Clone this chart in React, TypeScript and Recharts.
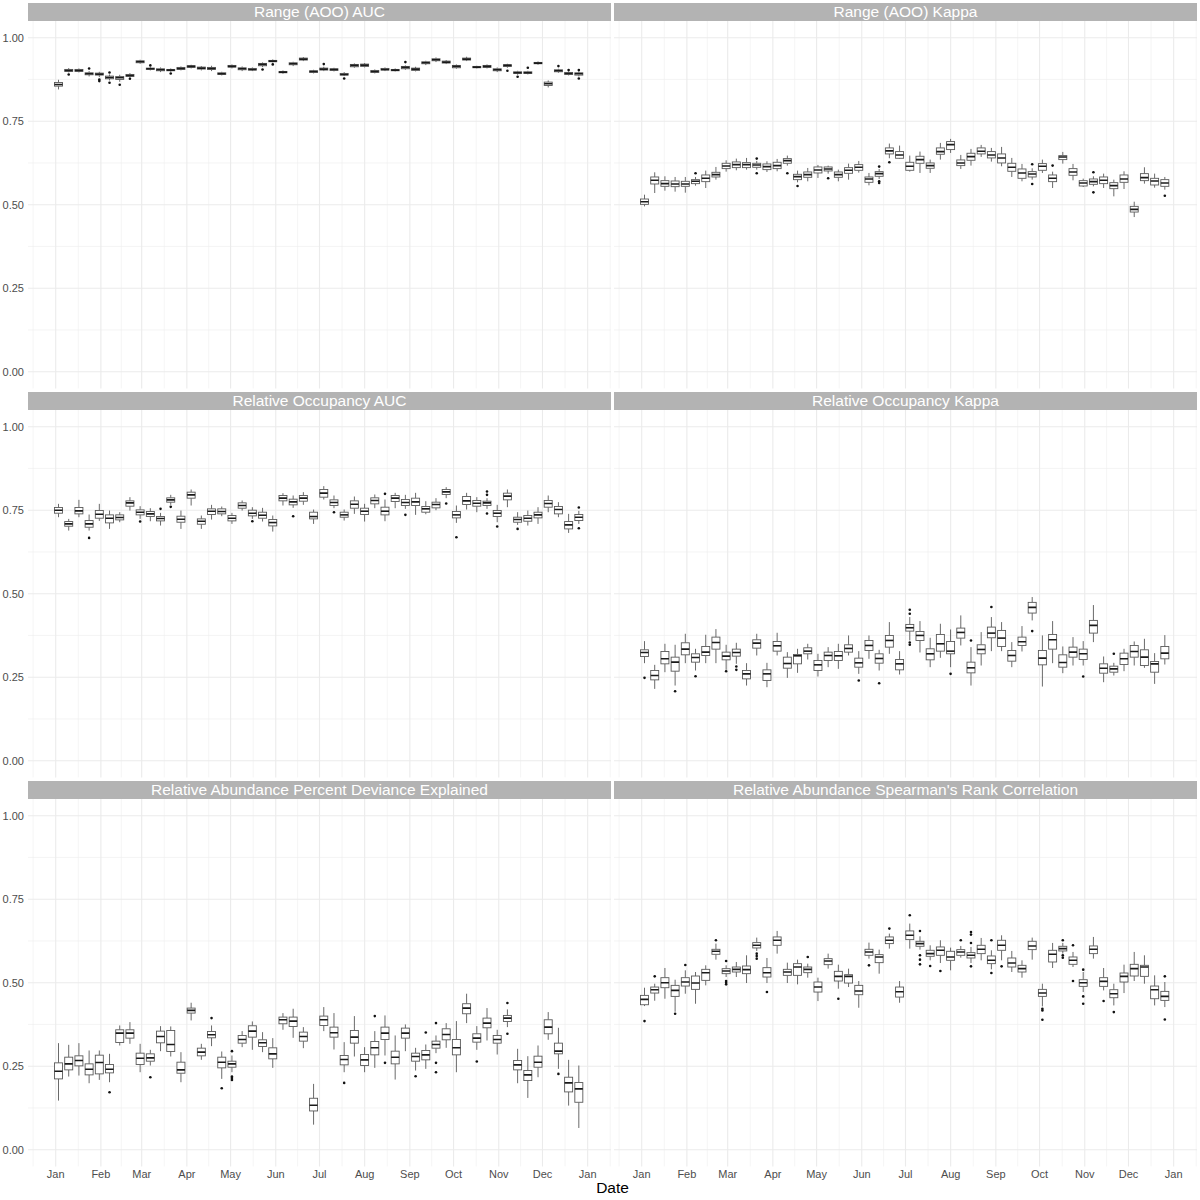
import { ComposedChart, Bar, XAxis, YAxis, CartesianGrid } from 'recharts';

// [lower whisker, q1, median, q3, upper whisker]
type Stats = [number, number, number, number, number];
type Outlier = [number, number]; // [week number (1-52), value]

const weekDates = [
  '2021-01-03', '2021-01-10', '2021-01-17', '2021-01-24', '2021-01-31',
  '2021-02-07', '2021-02-14', '2021-02-21', '2021-02-28',
  '2021-03-07', '2021-03-14', '2021-03-21', '2021-03-28',
  '2021-04-04', '2021-04-11', '2021-04-18', '2021-04-25',
  '2021-05-02', '2021-05-09', '2021-05-16', '2021-05-23', '2021-05-30',
  '2021-06-06', '2021-06-13', '2021-06-20', '2021-06-27',
  '2021-07-04', '2021-07-11', '2021-07-18', '2021-07-25',
  '2021-08-01', '2021-08-08', '2021-08-15', '2021-08-22', '2021-08-29',
  '2021-09-05', '2021-09-12', '2021-09-19', '2021-09-26',
  '2021-10-03', '2021-10-10', '2021-10-17', '2021-10-24', '2021-10-31',
  '2021-11-07', '2021-11-14', '2021-11-21', '2021-11-28',
  '2021-12-05', '2021-12-12', '2021-12-19', '2021-12-26',
];

const monthStarts = [
  '2021-01-01', '2021-02-01', '2021-03-01', '2021-04-01', '2021-05-01', '2021-06-01', '2021-07-01',
  '2021-08-01', '2021-09-01', '2021-10-01', '2021-11-01', '2021-12-01', '2022-01-01',
];
const monthLabels = ['Jan', 'Feb', 'Mar', 'Apr', 'May', 'Jun', 'Jul', 'Aug', 'Sep', 'Oct', 'Nov', 'Dec', 'Jan'];
const yTicks = [0, 0.25, 0.5, 0.75, 1];

const rangeAucBoxes: Stats[] = [
  [0.845, 0.855, 0.860, 0.866, 0.874], [0.896, 0.899, 0.902, 0.905, 0.909], [0.896, 0.899, 0.902, 0.905, 0.908],
  [0.884, 0.889, 0.892, 0.895, 0.900], [0.882, 0.888, 0.891, 0.894, 0.898], [0.872, 0.877, 0.881, 0.885, 0.890],
  [0.868, 0.875, 0.880, 0.884, 0.889], [0.880, 0.884, 0.887, 0.890, 0.894], [0.922, 0.925, 0.928, 0.931, 0.934],
  [0.902, 0.905, 0.907, 0.909, 0.912], [0.897, 0.901, 0.904, 0.907, 0.911], [0.898, 0.901, 0.903, 0.905, 0.908],
  [0.902, 0.905, 0.908, 0.911, 0.914], [0.908, 0.911, 0.914, 0.916, 0.919], [0.902, 0.906, 0.909, 0.912, 0.915],
  [0.900, 0.905, 0.908, 0.911, 0.916], [0.887, 0.890, 0.892, 0.895, 0.898], [0.908, 0.912, 0.914, 0.917, 0.920],
  [0.900, 0.904, 0.907, 0.910, 0.914], [0.900, 0.903, 0.905, 0.908, 0.911], [0.912, 0.916, 0.920, 0.923, 0.926],
  [0.926, 0.928, 0.930, 0.932, 0.935], [0.892, 0.895, 0.897, 0.899, 0.902], [0.915, 0.919, 0.922, 0.925, 0.928],
  [0.930, 0.933, 0.936, 0.939, 0.942], [0.893, 0.896, 0.899, 0.901, 0.904], [0.900, 0.903, 0.906, 0.909, 0.913],
  [0.899, 0.902, 0.905, 0.907, 0.910], [0.885, 0.888, 0.890, 0.893, 0.897], [0.910, 0.913, 0.917, 0.920, 0.923],
  [0.911, 0.914, 0.918, 0.921, 0.924], [0.893, 0.896, 0.899, 0.902, 0.905], [0.900, 0.903, 0.905, 0.908, 0.911],
  [0.899, 0.901, 0.903, 0.905, 0.908], [0.904, 0.907, 0.911, 0.914, 0.917], [0.899, 0.902, 0.906, 0.909, 0.913],
  [0.918, 0.922, 0.925, 0.928, 0.931], [0.927, 0.931, 0.934, 0.937, 0.941], [0.921, 0.924, 0.927, 0.930, 0.933],
  [0.907, 0.910, 0.914, 0.917, 0.920], [0.930, 0.933, 0.936, 0.939, 0.943], [0.908, 0.910, 0.912, 0.914, 0.916],
  [0.908, 0.911, 0.914, 0.917, 0.920], [0.897, 0.901, 0.904, 0.907, 0.911], [0.910, 0.914, 0.917, 0.919, 0.922],
  [0.889, 0.893, 0.895, 0.898, 0.901], [0.890, 0.893, 0.895, 0.898, 0.901], [0.919, 0.922, 0.924, 0.926, 0.929],
  [0.851, 0.857, 0.862, 0.867, 0.872], [0.895, 0.898, 0.901, 0.904, 0.907], [0.887, 0.890, 0.893, 0.896, 0.899],
  [0.884, 0.888, 0.892, 0.895, 0.899],
];
const rangeAucOutliers: Outlier[] = [
  [2, 0.890], [4, 0.908], [5, 0.870], [5, 0.875], [6, 0.896], [6, 0.865], [7, 0.859], [8, 0.877], [10, 0.917],
  [12, 0.893], [21, 0.905], [22, 0.920], [27, 0.921], [29, 0.878], [35, 0.927], [45, 0.901], [46, 0.883],
  [47, 0.910], [50, 0.915], [51, 0.903], [52, 0.903], [52, 0.878],
];

const rangeKappaBoxes: Stats[] = [
  [0.495, 0.501, 0.509, 0.517, 0.530], [0.535, 0.562, 0.573, 0.583, 0.597], [0.542, 0.555, 0.563, 0.572, 0.585],
  [0.539, 0.554, 0.562, 0.571, 0.583], [0.536, 0.555, 0.562, 0.570, 0.583], [0.557, 0.563, 0.570, 0.575, 0.583],
  [0.550, 0.569, 0.579, 0.589, 0.602], [0.575, 0.583, 0.590, 0.597, 0.613], [0.599, 0.608, 0.616, 0.624, 0.633],
  [0.603, 0.611, 0.620, 0.628, 0.638], [0.605, 0.611, 0.620, 0.626, 0.640], [0.605, 0.612, 0.619, 0.624, 0.631],
  [0.598, 0.605, 0.614, 0.622, 0.630], [0.600, 0.608, 0.617, 0.627, 0.637], [0.617, 0.624, 0.632, 0.638, 0.647],
  [0.567, 0.575, 0.584, 0.591, 0.602], [0.570, 0.582, 0.590, 0.598, 0.610], [0.580, 0.595, 0.604, 0.613, 0.619],
  [0.593, 0.601, 0.607, 0.613, 0.617], [0.570, 0.582, 0.590, 0.598, 0.605], [0.575, 0.594, 0.603, 0.611, 0.623],
  [0.596, 0.603, 0.612, 0.620, 0.631], [0.558, 0.567, 0.577, 0.583, 0.595], [0.577, 0.585, 0.593, 0.599, 0.607],
  [0.639, 0.652, 0.661, 0.670, 0.683], [0.637, 0.639, 0.649, 0.659, 0.677], [0.599, 0.603, 0.615, 0.627, 0.647],
  [0.595, 0.624, 0.635, 0.645, 0.659], [0.595, 0.609, 0.617, 0.625, 0.635], [0.635, 0.651, 0.659, 0.670, 0.685],
  [0.655, 0.665, 0.680, 0.689, 0.697], [0.607, 0.617, 0.625, 0.634, 0.649], [0.617, 0.633, 0.644, 0.654, 0.667],
  [0.643, 0.652, 0.660, 0.670, 0.679], [0.629, 0.640, 0.649, 0.659, 0.670], [0.615, 0.625, 0.640, 0.652, 0.673],
  [0.583, 0.600, 0.612, 0.624, 0.640], [0.570, 0.579, 0.595, 0.607, 0.622], [0.575, 0.583, 0.592, 0.599, 0.609],
  [0.595, 0.603, 0.615, 0.623, 0.635], [0.550, 0.569, 0.579, 0.589, 0.599], [0.623, 0.635, 0.643, 0.647, 0.658],
  [0.573, 0.588, 0.598, 0.608, 0.622], [0.553, 0.556, 0.565, 0.572, 0.578], [0.555, 0.561, 0.569, 0.577, 0.585],
  [0.550, 0.563, 0.573, 0.583, 0.593], [0.525, 0.548, 0.557, 0.566, 0.575], [0.547, 0.567, 0.577, 0.589, 0.600],
  [0.463, 0.478, 0.486, 0.495, 0.509], [0.563, 0.572, 0.581, 0.593, 0.612], [0.551, 0.559, 0.571, 0.579, 0.593],
  [0.545, 0.555, 0.565, 0.575, 0.583],
];
const rangeKappaOutliers: Outlier[] = [
  [6, 0.594], [12, 0.638], [12, 0.594], [15, 0.594], [16, 0.556], [19, 0.579], [24, 0.614], [24, 0.570],
  [24, 0.565], [25, 0.627], [39, 0.621], [39, 0.562], [41, 0.617], [45, 0.597], [45, 0.537], [52, 0.527],
];

const occAucBoxes: Stats[] = [
  [0.729, 0.741, 0.750, 0.758, 0.769], [0.689, 0.702, 0.709, 0.716, 0.724], [0.729, 0.739, 0.748, 0.758, 0.781],
  [0.689, 0.699, 0.709, 0.719, 0.737], [0.718, 0.726, 0.738, 0.749, 0.769], [0.694, 0.712, 0.726, 0.736, 0.749],
  [0.714, 0.721, 0.728, 0.736, 0.744], [0.749, 0.762, 0.772, 0.778, 0.789], [0.724, 0.736, 0.744, 0.751, 0.762],
  [0.717, 0.731, 0.739, 0.746, 0.756], [0.704, 0.718, 0.725, 0.731, 0.742], [0.766, 0.774, 0.781, 0.787, 0.796],
  [0.694, 0.714, 0.723, 0.732, 0.749], [0.764, 0.786, 0.796, 0.804, 0.812], [0.694, 0.708, 0.717, 0.724, 0.734],
  [0.722, 0.737, 0.747, 0.754, 0.766], [0.732, 0.739, 0.746, 0.754, 0.761], [0.709, 0.718, 0.726, 0.734, 0.742],
  [0.749, 0.756, 0.764, 0.772, 0.779], [0.724, 0.733, 0.741, 0.750, 0.759], [0.716, 0.726, 0.735, 0.744, 0.757],
  [0.686, 0.703, 0.713, 0.722, 0.734], [0.764, 0.778, 0.786, 0.794, 0.801], [0.757, 0.766, 0.775, 0.783, 0.794],
  [0.766, 0.777, 0.786, 0.794, 0.804], [0.709, 0.724, 0.731, 0.744, 0.752], [0.782, 0.789, 0.801, 0.812, 0.822],
  [0.756, 0.764, 0.773, 0.781, 0.794], [0.719, 0.729, 0.736, 0.744, 0.752], [0.739, 0.756, 0.768, 0.778, 0.791],
  [0.716, 0.737, 0.747, 0.756, 0.769], [0.756, 0.769, 0.779, 0.787, 0.797], [0.717, 0.736, 0.747, 0.759, 0.782],
  [0.756, 0.776, 0.786, 0.794, 0.802], [0.754, 0.764, 0.773, 0.782, 0.796], [0.736, 0.764, 0.775, 0.786, 0.802],
  [0.738, 0.744, 0.754, 0.761, 0.777], [0.750, 0.757, 0.767, 0.774, 0.786], [0.786, 0.797, 0.805, 0.812, 0.819],
  [0.712, 0.727, 0.736, 0.746, 0.764], [0.752, 0.767, 0.778, 0.791, 0.802], [0.744, 0.762, 0.771, 0.779, 0.789],
  [0.754, 0.764, 0.772, 0.777, 0.786], [0.714, 0.731, 0.741, 0.749, 0.766], [0.759, 0.781, 0.792, 0.801, 0.812],
  [0.706, 0.714, 0.722, 0.729, 0.744], [0.704, 0.717, 0.726, 0.734, 0.749], [0.709, 0.727, 0.736, 0.744, 0.759],
  [0.744, 0.759, 0.770, 0.779, 0.794], [0.729, 0.739, 0.752, 0.761, 0.774], [0.682, 0.694, 0.706, 0.716, 0.739],
  [0.709, 0.719, 0.729, 0.737, 0.748],
];
const occAucOutliers: Outlier[] = [
  [4, 0.667], [9, 0.716], [11, 0.754], [12, 0.760], [20, 0.717], [24, 0.732], [28, 0.744], [33, 0.799],
  [35, 0.736], [39, 0.770], [40, 0.669], [43, 0.806], [43, 0.796], [43, 0.740], [44, 0.701], [46, 0.694],
  [52, 0.758], [52, 0.696],
];

const occKappaBoxes: Stats[] = [
  [0.292, 0.312, 0.324, 0.332, 0.358], [0.215, 0.242, 0.255, 0.270, 0.287], [0.265, 0.290, 0.305, 0.327, 0.350],
  [0.225, 0.268, 0.295, 0.310, 0.347], [0.292, 0.317, 0.334, 0.353, 0.380], [0.270, 0.295, 0.309, 0.320, 0.335],
  [0.292, 0.315, 0.325, 0.342, 0.377], [0.292, 0.334, 0.354, 0.370, 0.394], [0.272, 0.302, 0.313, 0.325, 0.347],
  [0.290, 0.313, 0.324, 0.334, 0.353], [0.225, 0.245, 0.260, 0.270, 0.292], [0.315, 0.337, 0.352, 0.362, 0.380],
  [0.220, 0.240, 0.260, 0.272, 0.293], [0.315, 0.328, 0.344, 0.357, 0.383], [0.248, 0.277, 0.291, 0.310, 0.325],
  [0.263, 0.290, 0.314, 0.318, 0.335], [0.303, 0.320, 0.328, 0.338, 0.350], [0.252, 0.270, 0.287, 0.300, 0.320],
  [0.280, 0.300, 0.315, 0.325, 0.340], [0.275, 0.300, 0.314, 0.327, 0.350], [0.315, 0.325, 0.336, 0.347, 0.375],
  [0.260, 0.280, 0.293, 0.307, 0.328], [0.305, 0.330, 0.345, 0.360, 0.375], [0.270, 0.292, 0.306, 0.320, 0.332],
  [0.320, 0.340, 0.360, 0.375, 0.415], [0.258, 0.272, 0.290, 0.303, 0.328], [0.360, 0.388, 0.398, 0.408, 0.430],
  [0.324, 0.360, 0.375, 0.387, 0.418], [0.280, 0.302, 0.320, 0.335, 0.368], [0.308, 0.328, 0.350, 0.378, 0.410],
  [0.280, 0.320, 0.328, 0.357, 0.393], [0.345, 0.367, 0.384, 0.397, 0.435], [0.225, 0.263, 0.278, 0.295, 0.340],
  [0.285, 0.320, 0.333, 0.347, 0.385], [0.328, 0.368, 0.382, 0.400, 0.430], [0.328, 0.342, 0.367, 0.390, 0.415],
  [0.280, 0.298, 0.315, 0.330, 0.355], [0.327, 0.345, 0.356, 0.370, 0.403], [0.420, 0.442, 0.459, 0.474, 0.490],
  [0.222, 0.287, 0.307, 0.330, 0.375], [0.292, 0.334, 0.362, 0.378, 0.418], [0.262, 0.280, 0.294, 0.317, 0.342],
  [0.285, 0.310, 0.325, 0.340, 0.370], [0.285, 0.303, 0.320, 0.334, 0.358], [0.355, 0.382, 0.405, 0.420, 0.466],
  [0.235, 0.262, 0.277, 0.290, 0.312], [0.255, 0.265, 0.275, 0.283, 0.293], [0.268, 0.288, 0.305, 0.322, 0.335],
  [0.285, 0.310, 0.327, 0.345, 0.357], [0.278, 0.285, 0.310, 0.332, 0.365], [0.230, 0.265, 0.290, 0.297, 0.322],
  [0.288, 0.305, 0.322, 0.342, 0.376],
];
const occKappaOutliers: Outlier[] = [
  [1, 0.248], [4, 0.208], [6, 0.253], [9, 0.268], [10, 0.282], [10, 0.272], [22, 0.240], [24, 0.232],
  [27, 0.452], [27, 0.440], [27, 0.354], [27, 0.347], [31, 0.260], [33, 0.360], [35, 0.460], [39, 0.388],
  [44, 0.252], [47, 0.320],
];

const devExplBoxes: Stats[] = [
  [0.147, 0.212, 0.235, 0.260, 0.319], [0.219, 0.239, 0.257, 0.277, 0.314], [0.222, 0.251, 0.267, 0.281, 0.319],
  [0.199, 0.224, 0.241, 0.257, 0.297], [0.209, 0.227, 0.261, 0.283, 0.297], [0.202, 0.230, 0.241, 0.255, 0.287],
  [0.312, 0.321, 0.349, 0.359, 0.372], [0.317, 0.334, 0.349, 0.359, 0.382], [0.232, 0.255, 0.274, 0.289, 0.317],
  [0.252, 0.265, 0.275, 0.287, 0.299], [0.295, 0.320, 0.339, 0.355, 0.370], [0.279, 0.294, 0.315, 0.357, 0.369],
  [0.202, 0.229, 0.239, 0.262, 0.292], [0.387, 0.409, 0.417, 0.424, 0.440], [0.269, 0.281, 0.292, 0.304, 0.317],
  [0.310, 0.335, 0.344, 0.354, 0.372], [0.212, 0.245, 0.262, 0.277, 0.294], [0.232, 0.247, 0.257, 0.265, 0.282],
  [0.307, 0.319, 0.330, 0.342, 0.355], [0.299, 0.337, 0.355, 0.371, 0.384], [0.292, 0.309, 0.320, 0.329, 0.352],
  [0.245, 0.272, 0.287, 0.305, 0.334], [0.359, 0.377, 0.389, 0.397, 0.409], [0.335, 0.369, 0.385, 0.397, 0.422],
  [0.304, 0.325, 0.339, 0.352, 0.367], [0.075, 0.116, 0.133, 0.154, 0.197], [0.355, 0.372, 0.389, 0.400, 0.427],
  [0.300, 0.337, 0.350, 0.367, 0.409], [0.232, 0.254, 0.270, 0.282, 0.322], [0.279, 0.319, 0.337, 0.357, 0.400],
  [0.232, 0.252, 0.269, 0.285, 0.307], [0.245, 0.284, 0.305, 0.324, 0.355], [0.282, 0.330, 0.349, 0.367, 0.402],
  [0.210, 0.257, 0.277, 0.295, 0.342], [0.295, 0.334, 0.349, 0.364, 0.375], [0.237, 0.265, 0.279, 0.289, 0.305],
  [0.242, 0.269, 0.284, 0.297, 0.315], [0.289, 0.304, 0.315, 0.325, 0.342], [0.305, 0.329, 0.345, 0.362, 0.379],
  [0.232, 0.284, 0.305, 0.330, 0.385], [0.379, 0.407, 0.424, 0.437, 0.467], [0.299, 0.322, 0.334, 0.347, 0.370],
  [0.327, 0.365, 0.379, 0.394, 0.424], [0.285, 0.319, 0.330, 0.342, 0.359], [0.367, 0.384, 0.394, 0.402, 0.420],
  [0.199, 0.239, 0.254, 0.267, 0.302], [0.155, 0.207, 0.224, 0.237, 0.280], [0.217, 0.247, 0.262, 0.280, 0.312],
  [0.329, 0.347, 0.367, 0.389, 0.412], [0.242, 0.287, 0.295, 0.319, 0.365], [0.132, 0.173, 0.200, 0.217, 0.269],
  [0.065, 0.142, 0.182, 0.201, 0.252],
];
const devExplOutliers: Outlier[] = [
  [6, 0.172], [10, 0.217], [16, 0.394], [17, 0.184], [18, 0.295], [18, 0.219], [18, 0.215], [18, 0.209],
  [29, 0.200], [32, 0.400], [33, 0.260], [36, 0.220], [37, 0.351], [38, 0.379], [38, 0.260], [38, 0.232],
  [42, 0.264], [45, 0.439], [45, 0.347], [50, 0.227],
];

const spearmanBoxes: Stats[] = [
  [0.430, 0.434, 0.450, 0.462, 0.485], [0.446, 0.469, 0.479, 0.487, 0.497], [0.452, 0.485, 0.500, 0.515, 0.544],
  [0.413, 0.459, 0.477, 0.492, 0.509], [0.467, 0.490, 0.502, 0.515, 0.537], [0.437, 0.480, 0.499, 0.520, 0.532],
  [0.492, 0.507, 0.530, 0.540, 0.552], [0.569, 0.585, 0.594, 0.600, 0.617], [0.517, 0.527, 0.535, 0.542, 0.552],
  [0.517, 0.532, 0.540, 0.547, 0.562], [0.499, 0.527, 0.539, 0.550, 0.582], [0.595, 0.604, 0.612, 0.620, 0.635],
  [0.499, 0.517, 0.530, 0.545, 0.574], [0.587, 0.612, 0.627, 0.637, 0.655], [0.499, 0.522, 0.532, 0.540, 0.560],
  [0.495, 0.522, 0.547, 0.557, 0.569], [0.515, 0.530, 0.540, 0.547, 0.557], [0.445, 0.472, 0.487, 0.502, 0.515],
  [0.542, 0.554, 0.565, 0.572, 0.587], [0.482, 0.505, 0.519, 0.534, 0.554], [0.487, 0.499, 0.519, 0.524, 0.542],
  [0.425, 0.464, 0.475, 0.492, 0.505], [0.572, 0.582, 0.592, 0.600, 0.620], [0.527, 0.560, 0.577, 0.584, 0.599],
  [0.602, 0.617, 0.627, 0.637, 0.647], [0.440, 0.457, 0.473, 0.487, 0.505], [0.602, 0.629, 0.642, 0.655, 0.677],
  [0.599, 0.609, 0.617, 0.624, 0.639], [0.567, 0.579, 0.587, 0.597, 0.612], [0.559, 0.582, 0.597, 0.607, 0.627],
  [0.537, 0.567, 0.577, 0.594, 0.605], [0.575, 0.582, 0.592, 0.599, 0.610], [0.559, 0.574, 0.582, 0.590, 0.607],
  [0.567, 0.587, 0.600, 0.612, 0.634], [0.540, 0.557, 0.567, 0.580, 0.597], [0.567, 0.597, 0.612, 0.627, 0.642],
  [0.532, 0.547, 0.559, 0.574, 0.595], [0.515, 0.532, 0.542, 0.552, 0.567], [0.569, 0.599, 0.610, 0.624, 0.635],
  [0.429, 0.459, 0.469, 0.480, 0.497], [0.544, 0.562, 0.585, 0.597, 0.619], [0.587, 0.595, 0.602, 0.609, 0.619],
  [0.547, 0.555, 0.567, 0.577, 0.592], [0.472, 0.489, 0.500, 0.509, 0.532], [0.572, 0.587, 0.600, 0.610, 0.637],
  [0.477, 0.489, 0.504, 0.515, 0.544], [0.432, 0.455, 0.467, 0.479, 0.497], [0.469, 0.502, 0.519, 0.529, 0.554],
  [0.505, 0.520, 0.542, 0.555, 0.592], [0.497, 0.519, 0.547, 0.552, 0.582], [0.432, 0.452, 0.479, 0.490, 0.522],
  [0.427, 0.447, 0.459, 0.474, 0.502],
];
const spearmanOutliers: Outlier[] = [
  [1, 0.385], [2, 0.519], [4, 0.407], [5, 0.553], [8, 0.627], [9, 0.565], [9, 0.505], [9, 0.500], [9, 0.495],
  [12, 0.587], [12, 0.580], [12, 0.572], [13, 0.472], [17, 0.577], [20, 0.452], [23, 0.552], [25, 0.662],
  [27, 0.702], [28, 0.655], [28, 0.582], [28, 0.569], [28, 0.555], [29, 0.550], [30, 0.535], [32, 0.627],
  [33, 0.652], [33, 0.644], [33, 0.619], [33, 0.549], [35, 0.627], [35, 0.529], [36, 0.549], [40, 0.422],
  [40, 0.417], [40, 0.389], [42, 0.627], [42, 0.582], [42, 0.575], [43, 0.612], [43, 0.505], [44, 0.539],
  [44, 0.459], [44, 0.437], [46, 0.445], [47, 0.412], [52, 0.519], [52, 0.390],
];

// layout (px)
const PANEL_W = 583;
const PANEL_H = 367.4;
const COL_LEFT = [28, 614];
const ROW_TOP = [21.3, 410.3, 799.3];
const AXIS_W = 28;
const AXIS_H = 22;
const STRIP_H = 18.5;
const X_DOMAIN: [number, number] = [-19, 381];
const Y_DOMAIN: [number, number] = [-0.05, 1.05];
const FONT = '"Liberation Sans", Arial, Helvetica, sans-serif';

const dayOfYear = (s: string) => (Date.parse(s) - Date.parse('2021-01-01')) / 86400000;
const weekDays = weekDates.map(dayOfYear);
const monthTicks = monthStarts.map(dayOfYear);
const minorX = [
  monthTicks[0] - 15.5,
  ...monthTicks.slice(1).map((d, i) => (d + monthTicks[i]) / 2),
  monthTicks[monthTicks.length - 1] + 15.5,
];
const minorY = [0.125, 0.375, 0.625, 0.875];

function buildRows(boxes: Stats[], outliers: Outlier[]) {
  return boxes.map((stats, i) => {
    const outs = outliers.filter((o) => o[0] === i + 1).map((o) => o[1]);
    return {
      day: weekDays[i],
      stats,
      outs,
      range: [Math.min(stats[0], ...outs), Math.max(stats[4], ...outs)],
    };
  });
}

// one boxplot per bar: the bar spans [lowest, highest] point, the rest is placed inside it
function BoxShape(props: any) {
  const { x, y, width, height, payload } = props;
  if (!payload || x == null || y == null) return <g />;
  const [lo, q1, med, q3, hi] = payload.stats as Stats;
  const [bottom, top] = payload.range as number[];
  const span = top - bottom || 1;
  const py = (v: number) => y + ((top - v) / span) * height;
  const cx = x + width / 2;
  return (
    <g>
      <line x1={cx} x2={cx} y1={py(hi)} y2={py(q3)} stroke="#595959" strokeWidth={0.9} />
      <line x1={cx} x2={cx} y1={py(q1)} y2={py(lo)} stroke="#595959" strokeWidth={0.9} />
      <rect x={x} y={py(q3)} width={width} height={Math.max(py(q1) - py(q3), 0.5)} fill="#fff" stroke="#595959" strokeWidth={0.9} />
      <line x1={x} x2={x + width} y1={py(med)} y2={py(med)} stroke="#1a1a1a" strokeWidth={1.6} />
      {payload.outs.map((v: number, i: number) => (
        <circle key={i} cx={cx} cy={py(v)} r={1.3} fill="#111" />
      ))}
    </g>
  );
}

interface PanelProps {
  title: string;
  boxes: Stats[];
  outliers: Outlier[];
  col: number;
  row: number;
}

function Panel({ title, boxes, outliers, col, row }: PanelProps) {
  const showY = col === 0;
  const showX = row === 2;
  const rows = buildRows(boxes, outliers);
  return (
    <>
      <div
        style={{
          position: 'absolute', left: COL_LEFT[col], top: ROW_TOP[row] - STRIP_H, width: PANEL_W, height: STRIP_H,
          background: '#B3B3B3', color: '#fff', fontSize: 15.5, lineHeight: `${STRIP_H}px`, textAlign: 'center',
        }}
      >
        {title}
      </div>
      <div style={{ position: 'absolute', left: showY ? COL_LEFT[col] - AXIS_W : COL_LEFT[col], top: ROW_TOP[row] }}>
        <ComposedChart
          width={PANEL_W + (showY ? AXIS_W : 0)}
          height={PANEL_H + (showX ? AXIS_H : 0)}
          data={rows}
          margin={{ top: 0, right: 0, bottom: 0, left: 0 }}
        >
          <CartesianGrid stroke="#EFEFEF" strokeWidth={0.6} horizontalValues={minorY} verticalValues={minorX} />
          <CartesianGrid stroke="#EBEBEB" strokeWidth={1.1} horizontalValues={yTicks} verticalValues={monthTicks} />
          <XAxis
            type="number" dataKey="day" domain={X_DOMAIN} ticks={monthTicks} allowDataOverflow interval={0}
            hide={!showX} height={AXIS_H} tickLine={false} axisLine={false} tickSize={0} tickMargin={4}
            tickFormatter={(d: number) => monthLabels[monthTicks.indexOf(d)]}
            tick={{ fill: '#4D4D4D', fontSize: 11 }}
          />
          <YAxis
            type="number" domain={Y_DOMAIN} ticks={yTicks} allowDataOverflow interval={0}
            hide={!showY} width={AXIS_W} tickLine={false} axisLine={false} tickSize={0} tickMargin={4}
            tickFormatter={(v: number) => v.toFixed(2)}
            tick={{ fill: '#4D4D4D', fontSize: 11 }}
          />
          <Bar dataKey="range" barSize={8} shape={BoxShape} isAnimationActive={false} />
        </ComposedChart>
      </div>
    </>
  );
}

export default function App() {
  return (
    <div style={{ position: 'absolute', left: 0, top: 0, width: 1200, height: 1200, background: '#fff', fontFamily: FONT }}>
      <Panel title="Range (AOO) AUC" boxes={rangeAucBoxes} outliers={rangeAucOutliers} col={0} row={0} />
      <Panel title="Range (AOO) Kappa" boxes={rangeKappaBoxes} outliers={rangeKappaOutliers} col={1} row={0} />
      <Panel title="Relative Occupancy AUC" boxes={occAucBoxes} outliers={occAucOutliers} col={0} row={1} />
      <Panel title="Relative Occupancy Kappa" boxes={occKappaBoxes} outliers={occKappaOutliers} col={1} row={1} />
      <Panel title="Relative Abundance Percent Deviance Explained" boxes={devExplBoxes} outliers={devExplOutliers} col={0} row={2} />
      <Panel title="Relative Abundance Spearman's Rank Correlation" boxes={spearmanBoxes} outliers={spearmanOutliers} col={1} row={2} />
      <div
        style={{
          position: 'absolute', left: COL_LEFT[0], top: 1179, width: COL_LEFT[1] + PANEL_W - COL_LEFT[0], height: 18,
          lineHeight: '18px', textAlign: 'center', fontSize: 15.5, color: '#000',
        }}
      >
        Date
      </div>
    </div>
  );
}
